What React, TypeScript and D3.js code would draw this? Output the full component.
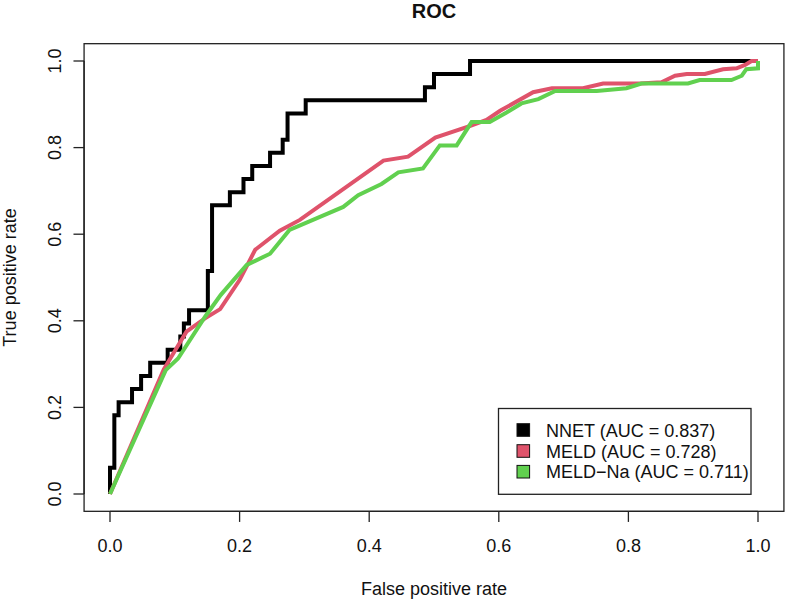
import React from "react";
import * as d3 from "d3";

// ---- data ----
const nnetFpr = [0, 0.0067, 0.0133, 0.034, 0.048, 0.062, 0.089, 0.1085, 0.114, 0.122, 0.151, 0.1575, 0.185, 0.206, 0.2195, 0.247, 0.2665, 0.274, 0.302, 0.486, 0.5, 0.5556, 1.0];
const nnetTpr = [0, 0.0606, 0.1818, 0.2121, 0.2424, 0.2727, 0.303, 0.3333, 0.3636, 0.3939, 0.4242, 0.5152, 0.6667, 0.697, 0.7273, 0.7576, 0.7879, 0.8182, 0.8788, 0.9091, 0.9394, 0.9697, 1.0];

const meldFpr = [0, 0.083, 0.118, 0.146, 0.17, 0.2, 0.224, 0.262, 0.293, 0.422, 0.46, 0.502, 0.556, 0.581, 0.602, 0.653, 0.682, 0.73, 0.761, 0.818, 0.851, 0.872, 0.89, 0.918, 0.946, 0.967, 0.98, 0.99, 1.0];
const meldTpr = [0, 0.288, 0.375, 0.405, 0.427, 0.494, 0.564, 0.608, 0.633, 0.77, 0.779, 0.823, 0.85, 0.864, 0.885, 0.928, 0.937, 0.937, 0.948, 0.948, 0.951, 0.966, 0.97, 0.97, 0.981, 0.983, 0.991, 1.0, 1.0];

const meldNaFpr = [0, 0.086, 0.105, 0.147, 0.171, 0.211, 0.247, 0.277, 0.324, 0.36, 0.383, 0.419, 0.445, 0.483, 0.509, 0.535, 0.558, 0.586, 0.612, 0.635, 0.661, 0.687, 0.751, 0.797, 0.82, 0.892, 0.91, 0.959, 0.975, 0.982, 1.0, 1.0];
const meldNaTpr = [0, 0.286, 0.313, 0.41, 0.46, 0.529, 0.555, 0.61, 0.64, 0.663, 0.69, 0.716, 0.743, 0.752, 0.805, 0.805, 0.859, 0.859, 0.881, 0.902, 0.912, 0.931, 0.931, 0.937, 0.948, 0.948, 0.956, 0.956, 0.966, 0.981, 0.983, 1.0];

const seriesNames = ["NNET", "MELD", "MELD−Na"];
const aucValues = ["0.837", "0.728", "0.711"];
const seriesColors = ["#000000", "#DF536B", "#61D04F"];
const tickValues = [0, 0.2, 0.4, 0.6, 0.8, 1.0];

const W = 786;
const H = 600;
const FONT = "'Liberation Sans', Arial, Helvetica, sans-serif";

export default function App() {
  const x = d3.scaleLinear().domain([0, 1]).range([110, 758]);
  const y = d3.scaleLinear().domain([0, 1]).range([494, 61]);
  const [bx0, bx1] = [x(-0.04), x(1.04)];
  const [by0, by1] = [y(1.04), y(-0.04)];

  const zip = (a: number[], b: number[]) => a.map((v, i) => [v, b[i]] as [number, number]);
  const stepLine = d3.line<[number, number]>().x(d => x(d[0])).y(d => y(d[1])).curve(d3.curveStepBefore);
  const polyLine = d3.line<[number, number]>().x(d => x(d[0])).y(d => y(d[1]));

  const paths = [
    stepLine(zip(nnetFpr, nnetTpr)),
    polyLine(zip(meldFpr, meldTpr)),
    polyLine(zip(meldNaFpr, meldNaTpr)),
  ];

  const axisColor = "#222";
  const tickLen = 10.6;

  // legend layout
  const lg = { x0: 498.5, x1: 751, y0: 408.5, y1: 494.3 };
  const rowY = [430, 451, 471.7];

  return (
    <svg width={W} height={H} style={{ position: "absolute", left: 0, top: 0, background: "#fff" }} fontFamily={FONT}>
      <rect x={0} y={0} width={W} height={H} fill="#fff" />
      <text x={(bx0 + bx1) / 2} y={17.5} textAnchor="middle" fontSize={20} fontWeight="bold" fill="#111">ROC</text>

      {/* curves */}
      {paths.map((p, i) => (
        <path key={i} d={p || ""} fill="none" stroke={seriesColors[i]} strokeWidth={4} strokeLinejoin="miter" strokeLinecap="butt" />
      ))}

      {/* plot box */}
      <rect x={bx0} y={by0} width={bx1 - bx0} height={by1 - by0} fill="none" stroke={axisColor} strokeWidth={1.3} />

      {/* x axis */}
      <line x1={x(0)} x2={x(1)} y1={by1} y2={by1} stroke={axisColor} strokeWidth={1.3} />
      {tickValues.map(t => (
        <g key={"xt" + t}>
          <line x1={x(t)} x2={x(t)} y1={by1} y2={by1 + tickLen} stroke={axisColor} strokeWidth={1.3} />
          <text x={x(t)} y={551.5} textAnchor="middle" fontSize={18} fill="#111">{t.toFixed(1)}</text>
        </g>
      ))}
      {/* y axis */}
      <line x1={bx0} x2={bx0} y1={y(0)} y2={y(1)} stroke={axisColor} strokeWidth={1.3} />
      {tickValues.map(t => (
        <g key={"yt" + t}>
          <line x1={bx0} x2={bx0 - tickLen} y1={y(t)} y2={y(t)} stroke={axisColor} strokeWidth={1.3} />
          <text transform={`translate(${60.5},${y(t)}) rotate(-90)`} textAnchor="middle" fontSize={18} fill="#111">{t.toFixed(1)}</text>
        </g>
      ))}

      <text x={(bx0 + bx1) / 2} y={594.5} textAnchor="middle" fontSize={18} fill="#111">False positive rate</text>
      <text transform={`translate(${15.5},${(by0 + by1) / 2}) rotate(-90)`} textAnchor="middle" fontSize={18} fill="#111">True positive rate</text>

      {/* legend */}
      <rect x={lg.x0} y={lg.y0} width={lg.x1 - lg.x0} height={lg.y1 - lg.y0} fill="#fff" stroke={axisColor} strokeWidth={1.3} />
      {seriesNames.map((n, i) => (
        <g key={n}>
          <rect x={517} y={rowY[i] - 6.3} width={12.6} height={12.6} fill={seriesColors[i]} stroke="#111" strokeWidth={1} />
          <text x={546} y={rowY[i] + 6.5} fontSize={18} fill="#111">{`${n} (AUC = ${aucValues[i]})`}</text>
        </g>
      ))}
    </svg>
  );
}
